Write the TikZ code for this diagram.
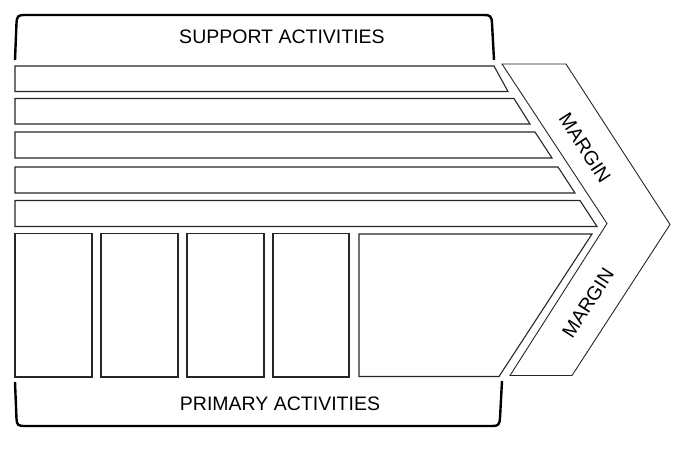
\documentclass[tikz,border=0pt]{standalone}
\usepackage{fontspec}
\setmainfont{Liberation Sans}
\begin{document}
\begin{tikzpicture}[x=1pt,y=-1pt,
  bar/.style={draw=black!85,line width=1.1pt,line join=miter},
  bracket/.style={draw=black,line width=2.4pt},
  chev/.style={draw=black!85,line width=0.9pt,line join=miter},
  lab/.style={font=\fontsize{19.5}{20}\selectfont,inner sep=0pt}]
\useasboundingbox (0,0) rectangle (678,448);
% top bracket
\draw[bracket] (15,60) -- (16.5,23) .. controls (17,16) and (18,15) .. (25,15)
  -- (484,15) .. controls (490,15) and (491.5,16) .. (492,23) -- (494,60);
% bottom bracket
\draw[bracket] (15,382) -- (16.5,419) .. controls (17,425) and (18,426) .. (25,426)
  -- (492,426) .. controls (498,426) and (499.5,425) .. (500,418) -- (502,381);
% support bars
\draw[bar] (15,66) -- (494,66) -- (508,91.5) -- (15,91.5) -- cycle;
\draw[bar] (15,98.5) -- (514,98.5) -- (530,124) -- (15,124) -- cycle;
\draw[bar] (15,132) -- (535,132) -- (552,158) -- (15,158) -- cycle;
\draw[bar] (15,167) -- (558,167) -- (575,193) -- (15,193) -- cycle;
\draw[bar] (15,200.5) -- (580,200.5) -- (597,226.5) -- (15,226.5) -- cycle;
% primary boxes
\draw[bar] (15,233.5) rectangle (92,377);
\draw[bar] (101,233.5) rectangle (178,377);
\draw[bar] (187,233.5) rectangle (264,377);
\draw[bar] (273,233.5) rectangle (349,377);
\draw[bar] (359,234) -- (592,234) -- (499,376.5) -- (359,376.5) -- cycle;
% margin chevron
\draw[chev] (502,64) -- (566,64) -- (670,224.5) -- (572,375.5) -- (510,375.5) -- (607,223.5) -- cycle;
% labels
\node[lab] (sup) at (282,37) {SUPPORT ACTIVITIES};
\node[lab] (pri) at (280,404) {PRIMARY ACTIVITIES};
\node[lab,rotate=-57] (m1) at (585,148) {MARGIN};
\node[lab,rotate=57] (m2) at (588,303) {MARGIN};
\end{tikzpicture}
\end{document}
